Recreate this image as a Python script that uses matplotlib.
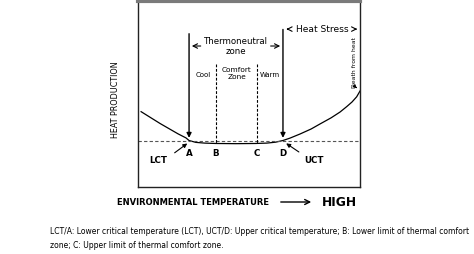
import matplotlib
matplotlib.use("Agg")
import matplotlib.pyplot as plt

# --- data (temperature 0..100, heat production 0..100, arbitrary units) ---
curve_temp = [1.4, 10, 18, 21.6, 23, 26, 30, 35, 44, 53, 58, 62, 65.3, 68.5, 73, 78, 82, 87, 91, 94, 96.4, 98.5, 100]
curve_heat = [40.5, 34.1, 28.6, 26.4, 25.0, 24.0, 23.6, 23.4, 23.3, 23.4, 23.6, 24.1, 25.0, 26.3, 28.5, 31.2, 33.9, 37.2, 40.3, 43.2, 45.7, 48.5, 51.6]
point_names = ["A", "B", "C", "D"]
point_temp = [23, 35.1, 53.6, 65.3]
baseline_heat = 24.6
zone_labels = ["Cool", "Comfort\nZone", "Warm"]
zone_temp = [29.2, 44.5, 59.5]

plt.rcParams['font.family'] = ['DejaVu Sans']
fig = plt.figure(figsize=(4.74, 2.55), dpi=100)
ax = fig.add_axes([138/474, (255-188)/255, 222/474, 186/255])
ax.set_xlim(0, 100)
ax.set_ylim(0, 100)
ax.set_xticks([])
ax.set_yticks([])
for s in ["left", "right", "bottom"]:
    ax.spines[s].set_linewidth(1.0)
    ax.spines[s].set_color("#222222")
ax.spines["top"].set_linewidth(3.0)
ax.spines["top"].set_color("#7a7a7a")

# curve
ax.plot(curve_temp, curve_heat, color="black", lw=0.9, solid_joinstyle="round")
# dashed baseline
ax.axhline(baseline_heat, color="#555555", lw=0.8, ls=(0, (3, 2)))

A, B, C, D = point_temp
# solid verticals with arrows at A and D
ax.annotate("", xy=(A, baseline_heat + 0.3), xytext=(A, 83.9),
            arrowprops=dict(arrowstyle="-|>", color="black", lw=1.0, mutation_scale=7))
ax.annotate("", xy=(D, baseline_heat + 0.3), xytext=(D, 86.2),
            arrowprops=dict(arrowstyle="-|>", color="black", lw=1.0, mutation_scale=7))
# dashed verticals at B and C
ax.plot([B, B], [66, 23.4], color="black", lw=0.8, ls=(0, (2.5, 1.5)))
ax.plot([C, C], [66, 23.4], color="black", lw=0.8, ls=(0, (2.5, 1.5)))

# point letters
for name, t in zip(point_names, point_temp):
    ax.text(t, 18.6, name, ha="center", va="center", fontsize=6.3, fontweight="bold")

# zone labels
ax.text(zone_temp[0], 60.5, zone_labels[0], ha="center", va="center", fontsize=5)
ax.text(zone_temp[1], 61.5, zone_labels[1], ha="center", va="center", fontsize=5.3, linespacing=1.1)
ax.text(zone_temp[2], 60.5, zone_labels[2], ha="center", va="center", fontsize=5)

# Thermoneutral zone arrows
tz_y = 75.8
ax.annotate("", xy=(A, tz_y), xytext=(29.5, tz_y),
            arrowprops=dict(arrowstyle="->", color="black", lw=0.8, mutation_scale=8))
ax.annotate("", xy=(D, tz_y), xytext=(58.5, tz_y),
            arrowprops=dict(arrowstyle="->", color="black", lw=0.8, mutation_scale=8))
ax.text(44.2, 78.5, "Thermoneutral", ha="center", va="center", fontsize=6.2)
ax.text(44.2, 73.5, "zone", ha="center", va="center", fontsize=6.2)

# Heat stress arrows
hs_y = 84.9
ax.annotate("", xy=(D + 0.3, hs_y), xytext=(69, hs_y),
            arrowprops=dict(arrowstyle="->", color="black", lw=0.8, mutation_scale=8))
ax.annotate("", xy=(100, hs_y), xytext=(96.5, hs_y),
            arrowprops=dict(arrowstyle="->", color="black", lw=0.8, mutation_scale=8))
ax.text(82.8, hs_y + 0.5, "Heat Stress", ha="center", va="center", fontsize=6.6)

# Death from heat
ax.annotate("", xy=(99.5, curve_heat[-1] + 0.5), xytext=(97.3, 54.5),
            arrowprops=dict(arrowstyle="-|>", color="black", lw=0.7, mutation_scale=5))
ax.text(97.5, 67.5, "Death from heat", rotation=90, ha="center", va="center", fontsize=4.4)

# LCT / UCT
ax.annotate("", xy=(A + 0.2, baseline_heat - 0.3), xytext=(15.5, 17.5),
            arrowprops=dict(arrowstyle="-|>", color="black", lw=0.8, mutation_scale=6))
ax.text(9.0, 14.8, "LCT", ha="center", va="center", fontsize=6.3, fontweight="bold")
ax.annotate("", xy=(D + 0.4, baseline_heat - 0.3), xytext=(73.5, 18.0),
            arrowprops=dict(arrowstyle="-|>", color="black", lw=0.8, mutation_scale=6))
ax.text(79.3, 14.8, "UCT", ha="center", va="center", fontsize=6.3, fontweight="bold")

# axis labels (figure coordinates in pixels)
fig.text(115/474, 1 - 100/255, "HEAT PRODUCTION", rotation=90, ha="center", va="center", fontsize=5.8)
fig.text(117/474, 1 - 203/255, "ENVIRONMENTAL TEMPERATURE", ha="left", va="center",
         fontsize=6.0, fontweight="bold")
fig.add_artist(matplotlib.patches.FancyArrowPatch((278/474, 1 - 203/255), (314/474, 1 - 203/255),
               transform=fig.transFigure, arrowstyle="->", mutation_scale=9, lw=1.0, color="black"))
fig.text(322/474, 1 - 203/255, "HIGH", ha="left", va="center", fontsize=8.8, fontweight="bold")

# caption
fig.text(50/474, 1 - 232/255,
         "LCT/A: Lower critical temperature (LCT), UCT/D: Upper critical temperature; B: Lower limit of thermal comfort",
         ha="left", va="center", fontsize=5.5)
fig.text(50/474, 1 - 246/255, "zone; C: Upper limit of thermal comfort zone.",
         ha="left", va="center", fontsize=5.5)

fig.savefig("out.png", dpi=100, facecolor="white")
